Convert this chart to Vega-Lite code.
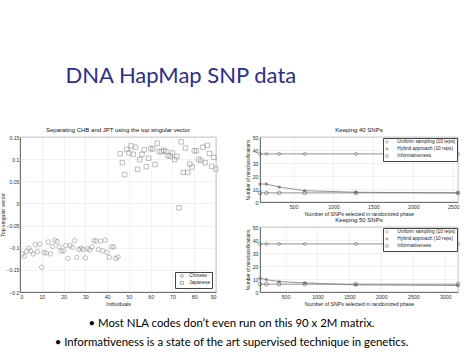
{
  "$schema": "https://vega.github.io/schema/vega-lite/v6.json",
  "background": "white",
  "padding": {"left": 0, "top": 64, "right": 0, "bottom": 0},
  "title": {"text": "DNA HapMap SNP data", "anchor": "start", "frame": "bounds", "font": "Lato", "fontSize": 22, "fontWeight": "normal", "color": "#2E2E8B", "offset": 39, "dx": 65},
  "config": {
    "font": "Liberation Sans",
    "view": {"stroke": "#999", "strokeWidth": 0.6},
    "axis": {"labelFontSize": 5.2, "titleFontSize": 5.2, "titleFontWeight": "normal", "labelColor": "#333", "titleColor": "#222", "domainColor": "#444", "domainWidth": 0.7, "tickColor": "#444", "tickSize": 0, "gridColor": "#d4d4d4", "gridDash": [1, 1], "gridWidth": 0.6, "grid": true, "labelPadding": 2, "titlePadding": 2},
    "legend": {"labelFontSize": 4.8, "symbolSize": 9, "padding": 1.5, "rowPadding": 0, "strokeColor": "#444", "fillColor": "white", "labelLimit": 200, "symbolStrokeWidth": 0.7, "symbolStrokeColor": "#555", "labelColor": "#222"}
  },
  "datasets": {
    "k40": [
      {"n": 80, "m": 37, "series": "Uniform sampling (10 reps)"},
      {"n": 160, "m": 37, "series": "Uniform sampling (10 reps)"},
      {"n": 320, "m": 37, "series": "Uniform sampling (10 reps)"},
      {"n": 640, "m": 37, "series": "Uniform sampling (10 reps)"},
      {"n": 1280, "m": 37, "series": "Uniform sampling (10 reps)"},
      {"n": 2560, "m": 37, "series": "Uniform sampling (10 reps)"},
      {"n": 80, "m": 13.8, "series": "Hybrid approach (10 reps)"},
      {"n": 160, "m": 13.8, "series": "Hybrid approach (10 reps)"},
      {"n": 320, "m": 11.5, "series": "Hybrid approach (10 reps)"},
      {"n": 640, "m": 8.7, "series": "Hybrid approach (10 reps)"},
      {"n": 1280, "m": 7.5, "series": "Hybrid approach (10 reps)"},
      {"n": 2560, "m": 7, "series": "Hybrid approach (10 reps)"},
      {"n": 80, "m": 7, "series": "Informativeness"},
      {"n": 160, "m": 7, "series": "Informativeness"},
      {"n": 320, "m": 7, "series": "Informativeness"},
      {"n": 640, "m": 7, "series": "Informativeness"},
      {"n": 1280, "m": 7, "series": "Informativeness"},
      {"n": 2560, "m": 7, "series": "Informativeness"}
    ],
    "k50": [
      {"n": 100, "m": 37, "series": "Uniform sampling (10 reps)"},
      {"n": 200, "m": 37, "series": "Uniform sampling (10 reps)"},
      {"n": 400, "m": 37, "series": "Uniform sampling (10 reps)"},
      {"n": 800, "m": 37, "series": "Uniform sampling (10 reps)"},
      {"n": 1600, "m": 37, "series": "Uniform sampling (10 reps)"},
      {"n": 3200, "m": 37, "series": "Uniform sampling (10 reps)"},
      {"n": 100, "m": 10.5, "series": "Hybrid approach (10 reps)"},
      {"n": 200, "m": 9.5, "series": "Hybrid approach (10 reps)"},
      {"n": 400, "m": 8, "series": "Hybrid approach (10 reps)"},
      {"n": 800, "m": 7, "series": "Hybrid approach (10 reps)"},
      {"n": 1600, "m": 5.5, "series": "Hybrid approach (10 reps)"},
      {"n": 3200, "m": 5, "series": "Hybrid approach (10 reps)"},
      {"n": 100, "m": 6, "series": "Informativeness"},
      {"n": 200, "m": 6, "series": "Informativeness"},
      {"n": 400, "m": 6, "series": "Informativeness"},
      {"n": 800, "m": 6, "series": "Informativeness"},
      {"n": 1600, "m": 6, "series": "Informativeness"},
      {"n": 3200, "m": 6, "series": "Informativeness"}
    ]
  },
  "spacing": 7,
  "resolve": {"scale": {"shape": "independent"}, "legend": {"shape": "independent"}},
  "vconcat": [
    {
      "bounds": "flush",
      "spacing": 44,
      "resolve": {"scale": {"shape": "independent"}, "legend": {"shape": "independent"}},
      "hconcat": [
        {
          "width": 196,
          "height": 155,
          "title": {"text": "Separating CHB and JPT using the top singular vector", "fontSize": 6, "fontWeight": "normal", "offset": 2, "color": "#111"},
          "data": {"values": [
            {"ind": 1, "v": -0.114, "pop": "Chinese"}, {"ind": 2, "v": -0.119, "pop": "Chinese"}, {"ind": 3, "v": -0.108, "pop": "Chinese"},
            {"ind": 4, "v": -0.101, "pop": "Chinese"}, {"ind": 5, "v": -0.108, "pop": "Chinese"}, {"ind": 6, "v": -0.114, "pop": "Chinese"},
            {"ind": 7, "v": -0.093, "pop": "Chinese"}, {"ind": 8, "v": -0.109, "pop": "Chinese"}, {"ind": 9, "v": -0.092, "pop": "Chinese"},
            {"ind": 10, "v": -0.144, "pop": "Chinese"}, {"ind": 11, "v": -0.111, "pop": "Chinese"}, {"ind": 12, "v": -0.112, "pop": "Chinese"},
            {"ind": 13, "v": -0.087, "pop": "Chinese"}, {"ind": 14, "v": -0.114, "pop": "Chinese"}, {"ind": 15, "v": -0.097, "pop": "Chinese"},
            {"ind": 16, "v": -0.083, "pop": "Chinese"}, {"ind": 17, "v": -0.086, "pop": "Chinese"}, {"ind": 18, "v": -0.098, "pop": "Chinese"},
            {"ind": 19, "v": -0.108, "pop": "Chinese"}, {"ind": 20, "v": -0.107, "pop": "Chinese"}, {"ind": 21, "v": -0.095, "pop": "Chinese"},
            {"ind": 22, "v": -0.124, "pop": "Chinese"}, {"ind": 23, "v": -0.095, "pop": "Chinese"}, {"ind": 24, "v": -0.099, "pop": "Chinese"},
            {"ind": 25, "v": -0.084, "pop": "Chinese"}, {"ind": 26, "v": -0.122, "pop": "Chinese"}, {"ind": 27, "v": -0.104, "pop": "Chinese"},
            {"ind": 28, "v": -0.101, "pop": "Chinese"}, {"ind": 29, "v": -0.104, "pop": "Chinese"}, {"ind": 30, "v": -0.123, "pop": "Chinese"},
            {"ind": 31, "v": -0.102, "pop": "Chinese"}, {"ind": 32, "v": -0.105, "pop": "Chinese"}, {"ind": 33, "v": -0.098, "pop": "Chinese"},
            {"ind": 34, "v": -0.084, "pop": "Chinese"}, {"ind": 35, "v": -0.085, "pop": "Chinese"}, {"ind": 36, "v": -0.104, "pop": "Chinese"},
            {"ind": 37, "v": -0.085, "pop": "Chinese"}, {"ind": 38, "v": -0.107, "pop": "Chinese"}, {"ind": 39, "v": -0.083, "pop": "Chinese"},
            {"ind": 40, "v": -0.111, "pop": "Chinese"}, {"ind": 41, "v": -0.122, "pop": "Chinese"}, {"ind": 42, "v": -0.098, "pop": "Chinese"},
            {"ind": 43, "v": -0.098, "pop": "Chinese"}, {"ind": 44, "v": -0.124, "pop": "Chinese"}, {"ind": 45, "v": -0.121, "pop": "Chinese"},
            {"ind": 46, "v": 0.112, "pop": "Japanese"}, {"ind": 47, "v": 0.092, "pop": "Japanese"}, {"ind": 48, "v": 0.065, "pop": "Japanese"},
            {"ind": 49, "v": 0.122, "pop": "Japanese"}, {"ind": 50, "v": 0.114, "pop": "Japanese"}, {"ind": 51, "v": 0.130, "pop": "Japanese"},
            {"ind": 52, "v": 0.111, "pop": "Japanese"}, {"ind": 53, "v": 0.127, "pop": "Japanese"}, {"ind": 54, "v": 0.077, "pop": "Japanese"},
            {"ind": 55, "v": 0.099, "pop": "Japanese"}, {"ind": 56, "v": 0.111, "pop": "Japanese"}, {"ind": 57, "v": 0.121, "pop": "Japanese"},
            {"ind": 58, "v": 0.083, "pop": "Japanese"}, {"ind": 59, "v": 0.102, "pop": "Japanese"}, {"ind": 60, "v": 0.124, "pop": "Japanese"},
            {"ind": 61, "v": 0.123, "pop": "Japanese"}, {"ind": 62, "v": 0.088, "pop": "Japanese"}, {"ind": 63, "v": 0.136, "pop": "Japanese"},
            {"ind": 64, "v": 0.117, "pop": "Japanese"}, {"ind": 65, "v": 0.117, "pop": "Japanese"}, {"ind": 66, "v": 0.120, "pop": "Japanese"},
            {"ind": 67, "v": 0.117, "pop": "Japanese"}, {"ind": 68, "v": 0.108, "pop": "Japanese"}, {"ind": 69, "v": 0.107, "pop": "Japanese"},
            {"ind": 70, "v": 0.114, "pop": "Japanese"}, {"ind": 71, "v": 0.099, "pop": "Japanese"}, {"ind": 72, "v": 0.106, "pop": "Japanese"},
            {"ind": 73, "v": -0.010, "pop": "Japanese"}, {"ind": 74, "v": 0.139, "pop": "Japanese"}, {"ind": 75, "v": 0.070, "pop": "Japanese"},
            {"ind": 76, "v": 0.125, "pop": "Japanese"}, {"ind": 77, "v": 0.070, "pop": "Japanese"}, {"ind": 78, "v": 0.089, "pop": "Japanese"},
            {"ind": 79, "v": 0.082, "pop": "Japanese"}, {"ind": 80, "v": 0.119, "pop": "Japanese"}, {"ind": 81, "v": 0.119, "pop": "Japanese"},
            {"ind": 82, "v": 0.100, "pop": "Japanese"}, {"ind": 83, "v": 0.097, "pop": "Japanese"}, {"ind": 84, "v": 0.127, "pop": "Japanese"},
            {"ind": 85, "v": 0.092, "pop": "Japanese"}, {"ind": 86, "v": 0.131, "pop": "Japanese"}, {"ind": 87, "v": 0.113, "pop": "Japanese"},
            {"ind": 88, "v": 0.084, "pop": "Japanese"}, {"ind": 89, "v": 0.104, "pop": "Japanese"}, {"ind": 90, "v": 0.078, "pop": "Japanese"}
          ]},
          "mark": {"type": "point", "filled": false, "size": 20, "strokeWidth": 0.8, "color": "#8a8a8a"},
          "encoding": {
            "x": {"field": "ind", "type": "quantitative", "scale": {"domain": [0, 90], "nice": false}, "axis": {"title": "Individuals", "values": [0, 10, 20, 30, 40, 50, 60, 70, 80, 90]}},
            "y": {"field": "v", "type": "quantitative", "scale": {"domain": [-0.2, 0.15], "nice": false}, "axis": {"title": "Top singular vector", "values": [-0.2, -0.15, -0.1, -0.05, 0, 0.05, 0.1, 0.15], "format": "~g", "titlePadding": 0, "labelPadding": 1}},
            "shape": {"field": "pop", "type": "nominal", "scale": {"domain": ["Chinese", "Japanese"], "range": ["circle", "square"]}, "legend": {"title": null, "orient": "bottom-right", "offset": 4, "symbolOffset": 3, "labelOffset": 5}}
          }
        },
        {
          "bounds": "flush",
          "spacing": 25,
          "resolve": {"scale": {"shape": "independent"}, "legend": {"shape": "independent"}},
          "vconcat": [
            {
              "width": 198,
              "height": 65,
              "title": {"text": "Keeping 40 SNPs", "fontSize": 6, "fontWeight": "normal", "offset": 2, "color": "#111"},
              "data": {"name": "k40"},
              "encoding": {
                "x": {"field": "n", "type": "quantitative", "scale": {"domain": [80, 2560], "nice": false, "zero": false}, "axis": {"values": [500, 1000, 1500, 2000, 2500], "format": "d", "title": "Number of SNPs selected in randomized phase"}},
                "y": {"field": "m", "type": "quantitative", "scale": {"domain": [0, 50]}, "axis": {"values": [0, 10, 20, 30, 40, 50], "title": "Number of misclassifications", "titleFontSize": 4.8}}
              },
              "layer": [
                {"mark": {"type": "line", "color": "#777", "strokeWidth": 0.8}, "encoding": {"detail": {"field": "series", "type": "nominal"}}},
                {"mark": {"type": "point", "filled": false, "size": 14, "strokeWidth": 0.8, "color": "#555"},
                 "encoding": {"shape": {"field": "series", "type": "nominal", "scale": {"domain": ["Uniform sampling (10 reps)", "Hybrid approach (10 reps)", "Informativeness"], "range": ["diamond", "M0,-1L0,1M-0.866,-0.5L0.866,0.5M-0.866,0.5L0.866,-0.5", "circle"]}, "legend": {"title": null, "orient": "top-right", "offset": 1, "labelOffset": 8}}}}
              ]
            },
            {
              "width": 198,
              "height": 65,
              "title": {"text": "Keeping 50 SNPs", "fontSize": 6, "fontWeight": "normal", "offset": 2, "color": "#111"},
              "data": {"name": "k50"},
              "encoding": {
                "x": {"field": "n", "type": "quantitative", "scale": {"domain": [100, 3200], "nice": false, "zero": false}, "axis": {"values": [500, 1000, 1500, 2000, 2500, 3000], "format": "d", "title": "Number of SNPs selected in randomized phase"}},
                "y": {"field": "m", "type": "quantitative", "scale": {"domain": [0, 50]}, "axis": {"values": [0, 10, 20, 30, 40, 50], "title": "Number of misclassifications", "titleFontSize": 4.8}}
              },
              "layer": [
                {"mark": {"type": "line", "color": "#777", "strokeWidth": 0.8}, "encoding": {"detail": {"field": "series", "type": "nominal"}}},
                {"mark": {"type": "point", "filled": false, "size": 14, "strokeWidth": 0.8, "color": "#555"},
                 "encoding": {"shape": {"field": "series", "type": "nominal", "scale": {"domain": ["Uniform sampling (10 reps)", "Hybrid approach (10 reps)", "Informativeness"], "range": ["diamond", "M0,-1L0,1M-0.866,-0.5L0.866,0.5M-0.866,0.5L0.866,-0.5", "circle"]}, "legend": {"title": null, "orient": "top-right", "offset": 1, "labelOffset": 8}}}}
              ]
            }
          ]
        }
      ]
    },
    {
      "width": 423,
      "height": 38,
      "view": {"stroke": null},
      "data": {"values": [
        {"i": 1, "t": "• Most NLA codes don’t even run on this 90 x 2M matrix."},
        {"i": 2, "t": "• Informativeness is a state of the art supervised technique in genetics."}
      ]},
      "mark": {"type": "text", "font": "Lato", "fontSize": 11.4, "color": "black", "align": "center", "baseline": "middle"},
      "encoding": {
        "y": {"field": "i", "type": "ordinal", "axis": null, "scale": {"type": "point", "padding": 0.5}},
        "text": {"field": "t", "type": "nominal"}
      }
    }
  ]
}
